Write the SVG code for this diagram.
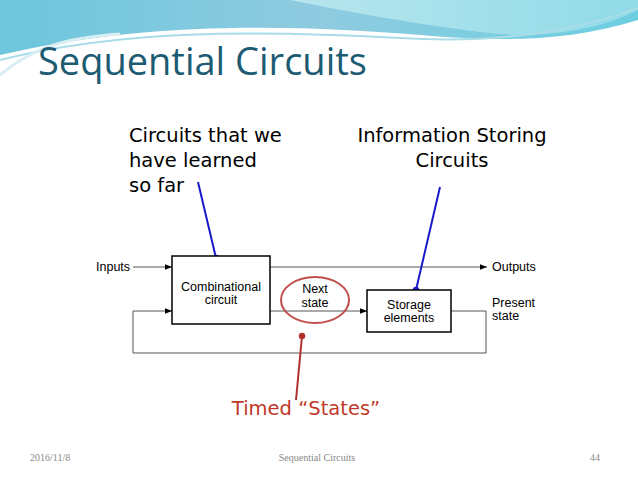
<svg xmlns="http://www.w3.org/2000/svg" width="638" height="478" viewBox="0 0 638 478">
<defs>
<linearGradient id="g1" x1="0" y1="0" x2="1" y2="0"><stop offset="0" stop-color="#6cc6dc"/><stop offset="0.5" stop-color="#8fcbe0"/><stop offset="1" stop-color="#6ccfe0"/></linearGradient>
<linearGradient id="g2" x1="0" y1="0" x2="1" y2="0"><stop offset="0" stop-color="#b8e6ee"/><stop offset="1" stop-color="#90dbe8"/></linearGradient>
<marker id="ab" viewBox="0 0 10 10" refX="10" refY="5" markerWidth="7" markerHeight="7" orient="auto"><path d="M0,1 L10,5 L0,9 z" fill="#000"/></marker>
<marker id="ablue" viewBox="0 0 10 10" refX="5" refY="5" markerWidth="4" markerHeight="4"><circle cx="5" cy="5" r="4" fill="#1a1acc"/></marker>
<marker id="ared" viewBox="0 0 10 10" refX="5" refY="5" markerWidth="4" markerHeight="4"><circle cx="5" cy="5" r="4" fill="#b03030"/></marker>
<style>
.b{fill:#fff;stroke:#000;stroke-width:1.5}
.l{fill:none;stroke:#555;stroke-width:1}
.t{font-family:"Liberation Sans",Arial,sans-serif;font-size:12.5px;fill:#000}
.c{font-family:"Comic Sans MS","DejaVu Sans",sans-serif;font-size:19.5px;fill:#000}
.f{font-family:"Liberation Serif",serif;font-size:10px;fill:#888}
</style>
</defs>
<rect width="638" height="478" fill="#fff"/>
<g id="bg">
<path d="M0,0 H638 V20 C560,45 480,40 420,35 C300,25 150,20 0,55 Z" fill="url(#g1)"/>
<path d="M290,0 H638 V10 C600,30 540,40 480,32 C400,22 330,8 290,0 Z" fill="url(#g2)"/>
<path d="M0,60 C120,30 250,30 400,38 C500,44 580,30 638,8" fill="none" stroke="#a8dde8" stroke-width="2"/>
<path d="M0,75 C30,50 60,38 120,34" fill="none" stroke="#d8eef3" stroke-width="3"/>
</g>
<text x="38" y="75" font-family="Open Sans,'Liberation Sans',sans-serif" font-size="38" fill="#1d5b73">Sequential Circuits</text>
<g id="connectors">
<path class="l" d="M133,267 H172" marker-end="url(#ab)"/>
<path class="l" d="M270,267 H487" marker-end="url(#ab)"/>
<path class="l" d="M270,311 H367" marker-end="url(#ab)"/>
<path class="l" d="M451,311 H486 V353 H133 V311 H172" marker-end="url(#ab)"/>
<path d="M198,182 L216,258" stroke="#1a1acc" stroke-width="2" fill="none" marker-end="url(#ablue)"/>
<path d="M440,187 L416,290" stroke="#1a1acc" stroke-width="2" fill="none" marker-end="url(#ablue)"/>
<path d="M296,400 L302,336" stroke="#b03030" stroke-width="2" fill="none" marker-end="url(#ared)"/>
</g>
<g id="comb"><rect class="b" x="172" y="256" width="98" height="68"/><text class="t" x="221" y="291" text-anchor="middle">Combinational</text><text class="t" x="221" y="304" text-anchor="middle">circuit</text></g>
<g id="storage"><rect class="b" x="367" y="290" width="84" height="42"/><text class="t" x="409" y="309" text-anchor="middle">Storage</text><text class="t" x="409" y="322" text-anchor="middle">elements</text></g>
<g id="next"><ellipse cx="315" cy="300" rx="34" ry="23" fill="none" stroke="#c0504d" stroke-width="2"/><text class="t" x="315" y="293" text-anchor="middle">Next</text><text class="t" x="315" y="307" text-anchor="middle">state</text></g>
<text class="t" x="96" y="271">Inputs</text>
<text class="t" x="492" y="271">Outputs</text>
<text class="t" x="492" y="307">Present</text>
<text class="t" x="492" y="320">state</text>
<text class="c" x="129" y="142">Circuits that we</text>
<text class="c" x="129" y="167">have learned</text>
<text class="c" x="129" y="192">so far</text>
<text class="c" x="452" y="142" text-anchor="middle">Information Storing</text>
<text class="c" x="452" y="167" text-anchor="middle">Circuits</text>
<text class="c" x="306" y="415" text-anchor="middle" style="fill:#c0392b">Timed “States”</text>
<text class="f" x="30" y="461">2016/11/8</text>
<text class="f" x="317" y="461" text-anchor="middle">Sequential Circuits</text>
<text class="f" x="600" y="461" text-anchor="end">44</text>
</svg>
